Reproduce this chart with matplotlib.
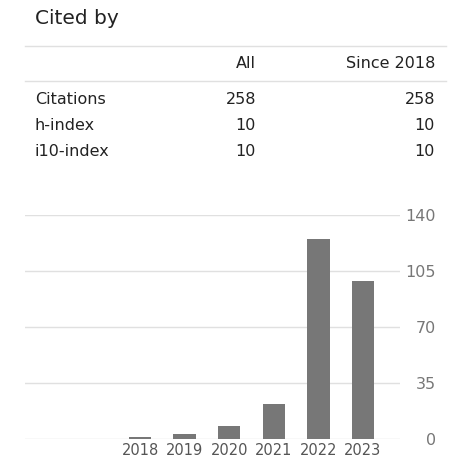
import matplotlib.pyplot as plt

years = ['2018', '2019', '2020', '2021', '2022', '2023']
cites = [1, 3, 8, 22, 125, 99]
yticks = [0, 35, 70, 105, 140]
row_names = ['Citations', 'h-index', 'i10-index']
all_vals = ['258', '10', '10']
since_vals = ['258', '10', '10']

W, H = 474, 475
fig = plt.figure(figsize=(W / 100, H / 100), dpi=100)
plt.rc('font', family='DejaVu Sans')

def px(x, y):
    return x / W, 1 - y / H

txt = '#222222'
fig.text(*px(35, 19), 'Cited by', fontsize=14.5, color=txt, va='center', ha='left')
for yy in (46, 81):
    fig.add_artist(plt.Line2D([25 / W, 446 / W], [1 - yy / H] * 2, color='#e0e0e0', lw=1))
fig.text(*px(256, 64), 'All', fontsize=11.5, color=txt, va='center', ha='right')
fig.text(*px(435, 64), 'Since 2018', fontsize=11.5, color=txt, va='center', ha='right')
for i, name in enumerate(row_names):
    y = 100 + i * 25.5
    fig.text(*px(35, y), name, fontsize=11.5, color=txt, va='center', ha='left')
    fig.text(*px(256, y), all_vals[i], fontsize=11.5, color=txt, va='center', ha='right')
    fig.text(*px(435, y), since_vals[i], fontsize=11.5, color=txt, va='center', ha='right')

ax = fig.add_axes([25 / W, 1 - 439 / H, 375 / W, 224 / H])
xs = range(len(years))
ax.bar(xs, cites, width=0.5, color='#777777', zorder=3)
ax.set_xlim(-2.58, 5.83)
ax.set_ylim(0, 140)
ax.set_yticks(yticks)
ax.yaxis.grid(True, color='#e0e0e0', lw=1, zorder=0)
for s in ax.spines.values():
    s.set_visible(False)
ax.yaxis.tick_right()
ax.tick_params(axis='y', length=0, pad=26, labelsize=11.5, labelcolor='#777777')
for lab in ax.get_yticklabels():
    lab.set_horizontalalignment('right')
ax.set_xticks(list(xs))
ax.set_xticklabels(years)
ax.tick_params(axis='x', length=0, pad=3, labelsize=10.5, labelcolor='#555555')

fig.savefig('out.png', dpi=100)
